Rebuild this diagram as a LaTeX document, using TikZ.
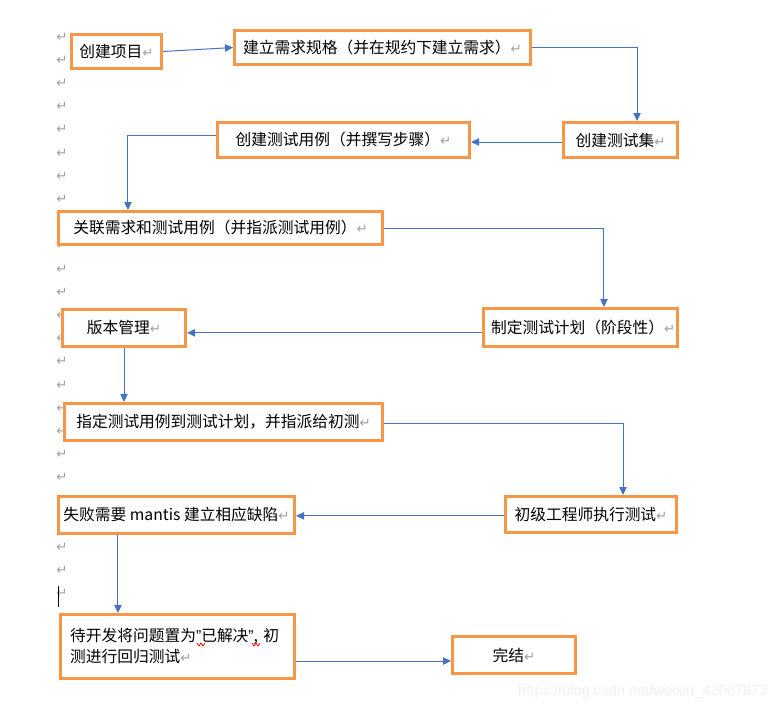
\documentclass[tikz,border=0pt]{standalone}
\usepackage{fontspec}
\setmainfont{Noto Sans CJK SC}
\newfontfamily\dejavu{DejaVu Sans}
\newfontfamily\libsans{Liberation Sans}
\usetikzlibrary{arrows.meta}
\definecolor{boxorange}{HTML}{F79646}
\definecolor{arrowblue}{HTML}{4472C4}
\definecolor{markgray}{HTML}{A0A0A0}
\newcommand{\pmark}{{\dejavu\fontsize{10pt}{10pt}\selectfont\color{markgray}↵}}
\begin{document}
\begin{tikzpicture}[x=0.75pt,y=-0.75pt,
  stepbox/.style={draw=boxorange, line width=2.25pt, fill=white, inner sep=0pt,
    font=\fontsize{11.8pt}{15.75pt}\selectfont},
  conn/.style={draw=arrowblue, line width=0.75pt, -{Triangle[length=6pt,width=5.5pt]}},
  pmk/.style={inner sep=0pt, text=markgray, font=\dejavu\fontsize{10pt}{10pt}\selectfont}]
\useasboundingbox (0,0) rectangle (777,711);

% paragraph marks in the left margin (those hidden behind boxes are left out)
\foreach \k in {0,...,7,9,10,11,12,13,14,15,16,17,18,19,22,23,24}{
  \node[pmk] (mk\k) at (62,{37+23.2*\k}) {↵};
}
% text cursor
\draw[line width=0.75pt] (58,586) -- (58,607);

% boxes
\node[stepbox, minimum width=67.5pt, minimum height=25.5pt] (b1) at (116.5,51.5) {创建项目\pmark};
\node[stepbox, minimum width=222pt, minimum height=25.5pt] (b2) at (382.5,47.5) {建立需求规格（并在规约下建立需求）\pmark};
\node[stepbox, minimum width=85.5pt, minimum height=26.25pt] (b3) at (620.5,140) {创建测试集\pmark};
\node[stepbox, minimum width=189pt, minimum height=26.25pt] (b4) at (343.5,140) {创建测试用例（并撰写步骤）\pmark};
\node[stepbox, minimum width=243pt, minimum height=24.75pt] (b5) at (220.5,228) {关联需求和测试用例（并指派测试用例）\pmark};
\node[stepbox, minimum width=145.5pt, minimum height=28.5pt] (b6) at (580.5,327.5) {\hspace{4pt}制定测试计划（阶段性）\pmark};
\node[stepbox, minimum width=92.25pt, minimum height=27.75pt] (b7) at (124,328) {版本管理\pmark};
\node[stepbox, minimum width=238.5pt, minimum height=27.75pt] (b8) at (223.5,422) {指定测试用例到测试计划，并指派给初测\pmark};
\node[stepbox, minimum width=128.25pt, minimum height=27pt] (b9) at (591,514.5) {初级工程师执行测试\pmark};
\node[stepbox, minimum width=177pt, minimum height=27.75pt] (b10) at (176.5,515) {失败需要 mantis 建立相应缺陷\pmark};
\node[stepbox, minimum width=175.5pt, minimum height=48pt, text width=161pt, align=left] (b11) at (177.5,646.5)
  {待开发将问题置为{\libsans ”}已解决{\libsans ”}, 初\\测进行回归测试\pmark};
\node[stepbox, minimum width=92.25pt, minimum height=27.75pt] (b12) at (514,655) {完结\pmark};

% red spelling squiggles
\draw[red, line width=0.6pt] (197,643) -- (199,646) -- (201,643) -- (203,646) -- (205,643);
\draw[red, line width=0.6pt] (252,643) -- (254,646) -- (256,643) -- (258,646) -- (260,643);

% connectors
\draw[conn] (b1.east) -- (b2.west);
\draw[conn] (b2.east) -| ([xshift=12.4pt]b3.north);
\coordinate (s34) at ([yshift=-1.5pt]b3.west);
\draw[conn] (s34) -- (s34 -| b4.east);
\coordinate (s45) at ([yshift=3.75pt]b4.west);
\draw[conn] (s45) -| ([xshift=-69.4pt]b5.north);
\draw[conn] (b5.east) -| ([xshift=17.6pt]b6.north);
\coordinate (s67) at ([yshift=-4pt]b6.west);
\draw[conn] (s67) -- (s67 -| b7.east);
\draw[conn] (b7.south) -- (b7.south |- b8.north);
\coordinate (s89) at ([yshift=-0.75pt]b8.east);
\draw[conn] (s89) -| ([xshift=24pt]b9.north);
\coordinate (s910) at ([yshift=-1pt]b9.west);
\draw[conn] (s910) -- (s910 -| b10.east);
\coordinate (s1011) at ([xshift=-43.9pt]b10.south);
\draw[conn] (s1011) -- (s1011 |- b11.north);
\coordinate (s1112) at ([yshift=-10.9pt]b11.east);
\draw[conn] (s1112) -- (s1112 -| b12.west);

% watermark
\node[anchor=east, inner sep=0pt, text=black!6, font=\libsans\fontsize{11pt}{11pt}\selectfont] (wm) at (768,692) {https://blog.csdn.net/weixin\_42067873};
\end{tikzpicture}
\end{document}
